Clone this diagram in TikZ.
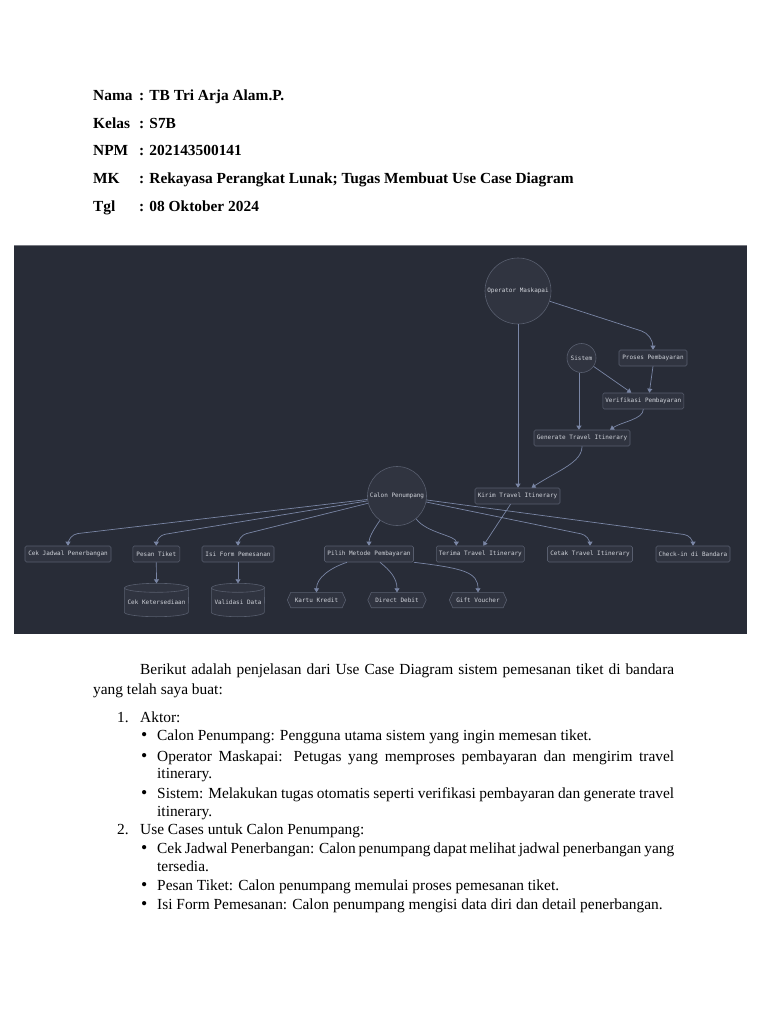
\documentclass[tikz,border=0pt]{standalone}
\usepackage{fontspec}
\setmainfont{Liberation Serif}
\newfontfamily\dmono{DejaVu Sans Mono}
\usetikzlibrary{arrows.meta,calc}

\definecolor{bgdark}{RGB}{40,44,55}
\definecolor{bgtop}{RGB}{120,122,130}
\definecolor{nodefill}{RGB}{48,52,64}
\definecolor{nodeline}{RGB}{88,94,110}
\definecolor{edgecol}{RGB}{122,134,165}
\definecolor{nodetext}{RGB}{208,211,218}

\tikzset{
  uc/.style={draw=nodeline, fill=nodefill, rounded corners=1.5pt, line width=0.6pt,
    inner sep=0pt, minimum height=16pt, text=nodetext, font=\dmono\fontsize{6}{7}\selectfont},
  actor/.style={circle, draw=nodeline, fill=nodefill, line width=0.6pt, inner sep=0pt,
    text=nodetext, font=\dmono\fontsize{6}{7}\selectfont},
  plainbox/.style={inner sep=0pt, text=nodetext, font=\dmono\fontsize{6}{7}\selectfont},
  shapeline/.style={draw=nodeline, fill=nodefill, line width=0.6pt},
  edge/.style={draw=edgecol, line width=0.7pt, -{Triangle[length=4pt,width=5pt]}},
  hdr/.style={anchor=base west, inner sep=0pt, font=\fontsize{15.4}{18}\selectfont\bfseries},
  body/.style={anchor=base west, inner sep=0pt, font=\fontsize{15.4}{18}\selectfont},
}

% cylinder around a plain node: #1 node name, #2 half width (pt)
\newcommand\drawcyl[2]{%
  \path[shapeline] ($(#1.north west)+(0,4.5)$) -- ($(#1.south west)+(0,-4.5)$)
    arc[start angle=180, end angle=360, x radius=#2pt, y radius=4.5pt]
    -- ($(#1.north east)+(0,4.5)$)
    arc[start angle=0, end angle=180, x radius=#2pt, y radius=4.5pt] -- cycle;
  \draw[draw=nodeline, line width=0.6pt] ($(#1.north west)+(0,4.5)$)
    arc[start angle=180, end angle=360, x radius=#2pt, y radius=4.5pt];
}
% hexagon around a plain node
\newcommand\drawhex[1]{%
  \path[shapeline] (#1.west) -- ($(#1.north west)+(3.5,0)$) -- ($(#1.north east)+(-3.5,0)$)
    -- (#1.east) -- ($(#1.south east)+(-3.5,0)$) -- ($(#1.south west)+(3.5,0)$) -- cycle;
}
\newcommand\bul{\raisebox{-0.06em}{\scalebox{1.15}{\textbullet}}}

\begin{document}
\begin{tikzpicture}[x=1pt,y=-1pt]
\useasboundingbox (0,0) rectangle (768,1024);
\fill[white] (0,0) rectangle (768,1024);

% ---------- header ----------
\node[hdr] (h1k) at (93,101) {Nama};
\node[hdr] (h1c) at (139,101) {: TB Tri Arja Alam.P.};
\node[hdr] (h2k) at (93,129) {Kelas};
\node[hdr] (h2c) at (139,129) {: S7B};
\node[hdr] (h3k) at (93,156) {NPM};
\node[hdr] (h3c) at (139,156) {: 202143500141};
\node[hdr] (h4k) at (93,184) {MK};
\node[hdr] (h4c) at (139,184) {: Rekayasa Perangkat Lunak; Tugas Membuat Use Case Diagram};
\node[hdr] (h5k) at (93,212) {Tgl};
\node[hdr] (h5c) at (139,212) {: 08 Oktober 2024};

% ---------- diagram background ----------
\fill[bgdark] (14,245) rectangle (747,634);
\draw[bgtop, line width=1pt] (14,245.5) -- (747,245.5);

% ---------- nodes ----------
\node[actor, minimum size=66pt] (opm) at (518,291) {Operator Maskapai};
\node[actor, minimum size=29pt] (sistem) at (581.5,358) {Sistem};
\node[uc, minimum width=68pt] (proses) at (653,358) {Proses Pembayaran};
\node[uc, minimum width=81pt] (verif) at (643.3,401) {Verifikasi Pembayaran};
\node[uc, minimum width=96pt] (gen) at (582,438) {Generate Travel Itinerary};
\node[uc, minimum width=85pt] (kirim) at (517.5,496) {Kirim Travel Itinerary};
\node[actor, minimum size=59pt] (calon) at (397,496) {Calon Penumpang};

\node[uc, minimum width=86pt] (cek) at (68,554) {Cek Jadwal Penerbangan};
\node[uc, minimum width=47pt] (pesan) at (156.3,554) {Pesan Tiket};
\node[uc, minimum width=72pt] (isi) at (238,554) {Isi Form Pemesanan};
\node[uc, minimum width=89pt] (pilih) at (369,554) {Pilih Metode Pembayaran};
\node[uc, minimum width=88pt] (terima) at (480.3,554) {Terima Travel Itinerary};
\node[uc, minimum width=85pt] (cetak) at (590,554) {Cetak Travel Itinerary};
\node[uc, minimum width=74pt] (checkin) at (693,554) {Check-in di Bandara};

% cylinders
\node[plainbox, minimum width=64pt, minimum height=33pt] (cekket) at (156.5,600) {};
\drawcyl{cekket}{32}
\node[plainbox] (cekkett) at ($(cekket)+(0,2)$) {Cek Ketersediaan};
\node[plainbox, minimum width=53pt, minimum height=33pt] (valid) at (238,600) {};
\drawcyl{valid}{26.5}
\node[plainbox] (validt) at ($(valid)+(0,2)$) {Validasi Data};

% hexagons
\node[plainbox, minimum width=58pt, minimum height=15pt] (kartu) at (316.5,600) {};
\drawhex{kartu}
\node[plainbox] (kartut) at (kartu) {Kartu Kredit};
\node[plainbox, minimum width=58pt, minimum height=15pt] (direct) at (397,600) {};
\drawhex{direct}
\node[plainbox] (directt) at (direct) {Direct Debit};
\node[plainbox, minimum width=57pt, minimum height=15pt] (gift) at (478,600) {};
\drawhex{gift}
\node[plainbox] (giftt) at (gift) {Gift Voucher};

% ---------- edges ----------
\draw[edge, rounded corners=12pt] (opm) -- ($(proses.north)+(0,-15)$) -- (proses.north);
\draw[edge] (opm) -- (opm |- kirim.north);
\draw[edge] (sistem) -- ($(verif.north)+(-12,0)$);
\draw[edge] (sistem.-100) -- (sistem.-100 |- gen.north);
\draw[edge] (proses.south) -- ($(verif.north)+(6,0)$);
\draw[edge] (verif.south) .. controls +(0,10) and +(12,-8) .. ($(gen.north)+(28,0)$);
\draw[edge] (gen.south) .. controls +(0,16) and +(28,-18) .. ($(kirim.north)+(14,0)$);
\draw[edge] ($(kirim.south)+(-7,0)$) -- ($(terima.north)+(3,0)$);

\draw[edge, rounded corners=10pt] (calon) -- ($(cek.north)+(0,-11)$) -- (cek.north);
\draw[edge, rounded corners=9pt] (calon) -- ($(pesan.north)+(0,-10)$) -- (pesan.north);
\draw[edge, rounded corners=9pt] (calon) -- ($(isi.north)+(0,-10)$) -- (isi.north);
\draw[edge] (calon.-125) .. controls +(-7,10) and +(0,-8) .. (pilih.north);
\draw[edge] (calon.-50) .. controls +(10,14) and +(0,-10) .. ($(terima.north)+(-24,0)$);
\draw[edge, rounded corners=9pt] (calon) -- ($(cetak.north)+(0,-10)$) -- (cetak.north);
\draw[edge, rounded corners=9pt] (calon) -- ($(checkin.north)+(0,-10)$) -- (checkin.north);

\draw[edge] (pesan.south) -- (cekket.north);
\draw[edge] (isi.south) -- (valid.north);
\draw[edge] ($(pilih.south)+(-22,0)$) .. controls +(-18,6) and +(0,-14) .. (kartu.north);
\draw[edge] ($(pilih.south)+(11,0)$) .. controls +(10,8) and +(0,-14) .. (direct.north);
\draw[edge] (pilih.south east) .. controls +(50,6) and +(0,-20) .. (gift.north);

% ---------- body text ----------
\node[body] (p1) at (140,674) {\makebox[534pt][s]{Berikut adalah penjelasan dari Use Case Diagram sistem pemesanan tiket di bandara}};
\node[body] (p2) at (93,694) {yang telah saya buat:};
\node[body] (n1) at (117,722) {1.};
\node[body] (n1t) at (140,722) {Aktor:};
\node[body] (b1) at (141,740) {\bul};
\node[body] (b1t) at (157,740) {Calon Penumpang: Pengguna utama sistem yang ingin memesan tiket.};
\node[body] (b2) at (141,761) {\bul};
\node[body] (b2t) at (157,761) {\makebox[517pt][s]{Operator Maskapai: Petugas yang memproses pembayaran dan mengirim travel}};
\node[body] (b2u) at (157,778) {itinerary.};
\node[body] (b3) at (141,798) {\bul};
\node[body] (b3t) at (157,798) {\makebox[517pt][s]{Sistem: Melakukan tugas otomatis seperti verifikasi pembayaran dan generate travel}};
\node[body] (b3u) at (157,816) {itinerary.};
\node[body] (n2) at (117,834) {2.};
\node[body] (n2t) at (140,834) {Use Cases untuk Calon Penumpang:};
\node[body] (b4) at (141,853) {\bul};
\node[body] (b4t) at (157,853) {\makebox[517pt][s]{Cek Jadwal Penerbangan: Calon penumpang dapat melihat jadwal penerbangan yang}};
\node[body] (b4u) at (157,871) {tersedia.};
\node[body] (b5) at (141,890) {\bul};
\node[body] (b5t) at (157,890) {Pesan Tiket: Calon penumpang memulai proses pemesanan tiket.};
\node[body] (b6) at (141,909) {\bul};
\node[body] (b6t) at (157,909) {Isi Form Pemesanan: Calon penumpang mengisi data diri dan detail penerbangan.};
\end{tikzpicture}
\end{document}
